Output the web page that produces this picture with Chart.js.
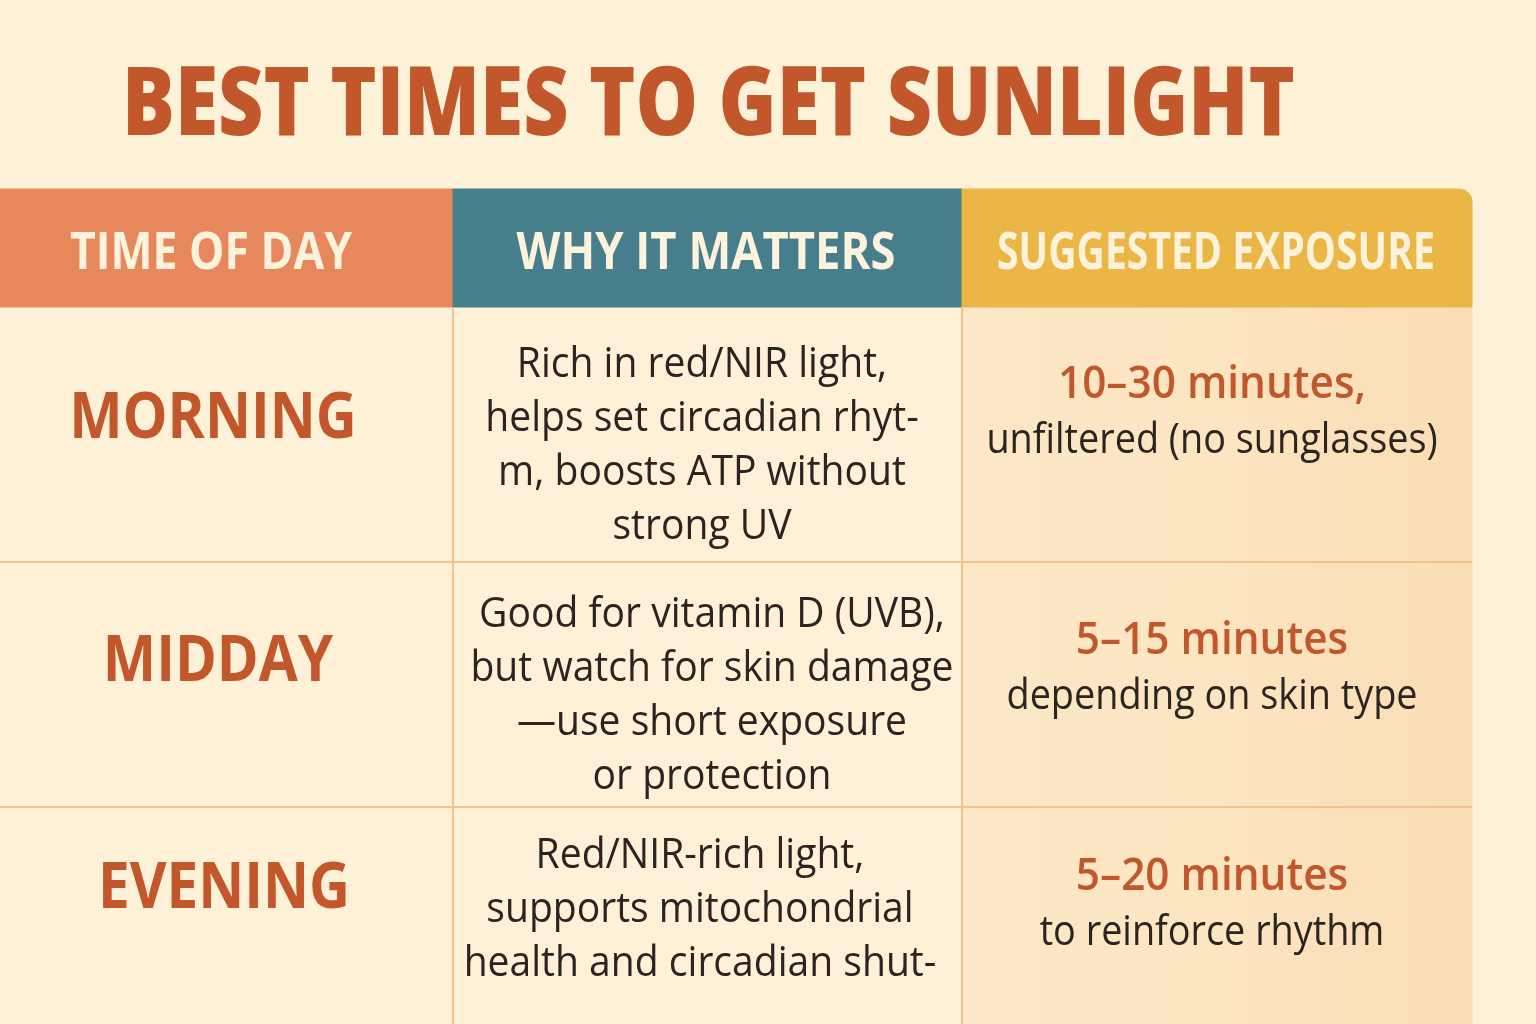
<!DOCTYPE html>
<html lang="en">
<head>
<meta charset="utf-8">
<title>Best times to get sunlight</title>
<script src="https://cdn.jsdelivr.net/npm/chart.js@4.4.1/dist/chart.umd.min.js"></script>
<style>
  html, body { margin: 0; padding: 0; background: #FDF1D8; overflow: hidden; }
</style>
</head>
<body>
<canvas id="sunTable" width="1536" height="1024"></canvas>

<script type="text/javascript">

    // table content
    const chartTitle = "BEST TIMES TO GET SUNLIGHT";
    const columnHeaders = ["TIME OF DAY", "WHY IT MATTERS", "SUGGESTED EXPOSURE"];
    const timesOfDay = ["MORNING", "MIDDAY", "EVENING"];
    const whyItMatters = [
        ["Rich in red/NIR light,", "helps set circadian rhyt-", "m, boosts ATP without", "strong UV"],
        ["Good for vitamin D (UVB),", "but watch for skin damage", "\u2014use short exposure", "or protection"],
        ["Red/NIR-rich light,", "supports mitochondrial", "health and circadian shut-"]
    ];
    const exposureAmount = ["10\u201330 minutes,", "5\u201315 minutes", "5\u201320 minutes"];
    const exposureNote = ["unfiltered (no sunglasses)", "depending on skin type", "to reinforce rhythm"];

    // layout (scale units, 1 unit = 1px here)
    const colEdges = [0, 453, 962, 1472];
    const rowEdges = [189, 307, 562, 807, 1060];
    const headerColors = ["#E6885B", "#467E8B", "#ECB646"];
    const headerWidths = [282, 379, 438];
    const bodyColor = "#FEF1D7";
    const accent = "#C2572B";
    const ink = "#2B2420";
    const gridColor = "#F2C291";

    const labelBase = [131, 119, 101];
    const labelX = [213, 218, 224];
    const whyBase = [70, 65, 61];
    const whyX = [702, 712, 700];
    const amountBase = [91, 92, 83];
    const lineStep = 54;
    const exposureX = 1212;
    const headerX = [211, 706, 1216];

    function cellColor(ctx) {
        const r = ctx.datasetIndex, c = ctx.dataIndex;
        if (r === 0) return headerColors[c];
        if (c === 2) {
            const x = ctx.chart.scales && ctx.chart.scales.x;
            if (!x) return "#FBE4C1";
            const g = ctx.chart.ctx.createLinearGradient(x.getPixelForValue(colEdges[2]), 0, x.getPixelForValue(colEdges[3]), 0);
            g.addColorStop(0, "#FCE8C7");
            g.addColorStop(0.5, "#FCE5C1");
            g.addColorStop(1, "#F9DDB4");
            return g;
        }
        return bodyColor;
    }

    const datasets = [];
    for (let r = 0; r < rowEdges.length - 1; r++) {
        const cells = [];
        for (let c = 0; c < columnHeaders.length; c++) {
            cells.push({x: [colEdges[c], colEdges[c + 1]], y: (rowEdges[r] + rowEdges[r + 1]) / 2});
        }
        datasets.push({
            label: r === 0 ? "header" : timesOfDay[r - 1],
            data: cells,
            grouped: false,
            barThickness: rowEdges[r + 1] - rowEdges[r],
            backgroundColor: cellColor,
            borderWidth: 0,
            borderSkipped: false,
            inflateAmount: 0.5,
            borderRadius: ctx => (ctx.datasetIndex === 0 && ctx.dataIndex === 2)
                ? {topLeft: 0, topRight: 14, bottomLeft: 0, bottomRight: 0} : 0
        });
    }

    function drawText(ctx, text, x, y, font, color, squeeze, align) {
        ctx.font = font;
        ctx.fillStyle = color;
        ctx.textAlign = align || "center";
        ctx.textBaseline = "alphabetic";
        const w = ctx.measureText(text).width;
        ctx.fillText(text, x, y, w * squeeze);
    }

    function textWidth(ctx, text, font) {
        ctx.font = font;
        return ctx.measureText(text).width;
    }

    const tableText = {
        id: "tableText",
        afterDatasetsDraw(chart) {
            const ctx = chart.ctx;
            const xs = chart.scales.x, ys = chart.scales.y;
            const px = v => xs.getPixelForValue(v);
            const py = v => ys.getPixelForValue(v);
            ctx.save();

            // grid lines
            ctx.strokeStyle = gridColor;
            ctx.lineWidth = 2;
            ctx.beginPath();
            for (let r = 2; r < rowEdges.length - 1; r++) {
                ctx.moveTo(px(colEdges[0]), py(rowEdges[r]));
                ctx.lineTo(px(colEdges[3]), py(rowEdges[r]));
            }
            for (let c = 1; c < colEdges.length - 1; c++) {
                ctx.moveTo(px(colEdges[c]), py(rowEdges[1]));
                ctx.lineTo(px(colEdges[c]), py(rowEdges[4]));
            }
            ctx.stroke();

            // title
            const titleFont = "800 95px 'Open Sans'";
            drawText(ctx, chartTitle, px(122), py(135), titleFont, accent,
                1173 / textWidth(ctx, chartTitle, titleFont), "left");

            // headers
            const headFont = "700 52px 'Open Sans'";
            columnHeaders.forEach((h, c) => {
                drawText(ctx, h, px(headerX[c]), py(269), headFont, "#FDF3DD",
                    headerWidths[c] / textWidth(ctx, h, headFont));
            });

            // body rows
            for (let r = 0; r < timesOfDay.length; r++) {
                const top = rowEdges[r + 1];
                drawText(ctx, timesOfDay[r], px(labelX[r]), py(top + labelBase[r]), "700 64px 'Open Sans'", accent, 0.885);
                whyItMatters[r].forEach((line, i) => {
                    drawText(ctx, line, px(whyX[r]), py(top + whyBase[r] + i * lineStep), "500 42px 'Open Sans'", ink, 0.93);
                });
                drawText(ctx, exposureAmount[r], px(exposureX), py(top + amountBase[r]), "600 46px 'Open Sans'", accent, 0.92);
                drawText(ctx, exposureNote[r], px(exposureX), py(top + amountBase[r] + 55), "500 42px 'Open Sans'", ink, 0.9);
            }
            ctx.restore();
        }
    };

    new Chart("sunTable", {
        type: "bar",
        data: {datasets: datasets},
        options: {
            indexAxis: "y",
            responsive: false,
            devicePixelRatio: 1,
            animation: false,
            layout: {padding: 0},
            scales: {
                x: {type: "linear", min: 0, max: 1536, offset: false, display: false},
                y: {type: "linear", min: 0, max: 1024, reverse: true, offset: false, display: false}
            },
            plugins: {
                legend: {display: false},
                tooltip: {enabled: false}
            }
        },
        plugins: [tableText]
    });

</script>
</body>
</html>
